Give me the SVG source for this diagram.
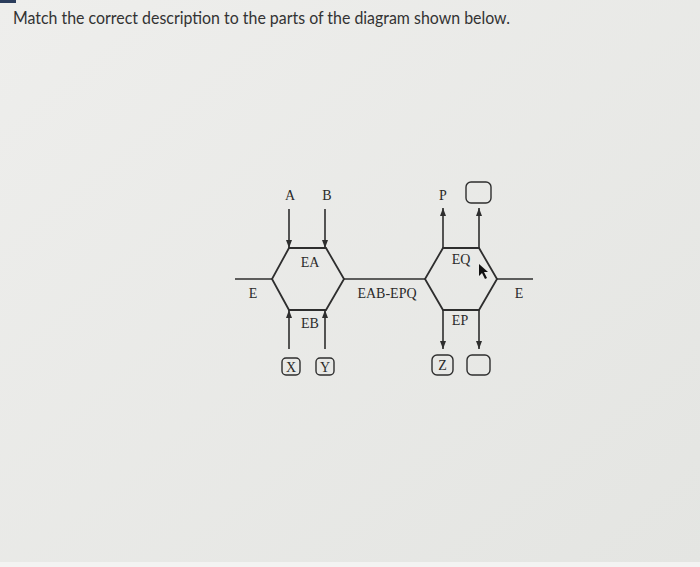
<svg xmlns="http://www.w3.org/2000/svg" width="700" height="567" viewBox="0 0 700 567">
<style>
.ln{stroke:#2e2e2e;stroke-width:1.6;fill:none}
.hex{stroke:#2e2e2e;stroke-width:1.8;fill:none;stroke-linejoin:miter}
.lb{font-family:"Liberation Serif","Times New Roman",serif;font-size:14px;fill:#2a2a2a;text-anchor:middle}
.bx{stroke:#2e2e2e;stroke-width:1.4;fill:none}
</style>
<defs>
<marker id="ah" viewBox="0 0 8 6" refX="8" refY="3" markerWidth="8" markerHeight="6" markerUnits="userSpaceOnUse" orient="auto"><path d="M0,0L8,3L0,6z" fill="#2e2e2e"/></marker>
<linearGradient id="bg" x1="0" y1="0" x2="1" y2="1"><stop offset="0" stop-color="#eeeeec"/><stop offset="1" stop-color="#e4e5e2"/></linearGradient>
</defs>
<rect width="700" height="567" fill="url(#bg)"/>
<rect x="0" y="562" width="700" height="5" fill="#f3f3f2"/>
<rect x="0" y="0" width="16" height="3" fill="#2b3d5c"/>
<text x="13" y="24" font-family="Lato,'Open Sans',sans-serif" font-size="17.5" fill="#333" textLength="497" lengthAdjust="spacingAndGlyphs">Match the correct description to the parts of the diagram shown below.</text>

<g id="connectors">
<line class="ln" x1="289" y1="209" x2="289" y2="248" marker-end="url(#ah)"/>
<line class="ln" x1="325" y1="209" x2="325" y2="248" marker-end="url(#ah)"/>
<line class="ln" x1="289" y1="349" x2="289" y2="310" marker-end="url(#ah)"/>
<line class="ln" x1="325" y1="349" x2="325" y2="310" marker-end="url(#ah)"/>
<line class="ln" x1="235" y1="279" x2="272" y2="279"/>
<line class="ln" x1="344" y1="279" x2="425" y2="279"/>
<line class="ln" x1="497" y1="279" x2="533" y2="279"/>
<line class="ln" x1="443" y1="248" x2="443" y2="208" marker-end="url(#ah)"/>
<line class="ln" x1="479" y1="248" x2="479" y2="208" marker-end="url(#ah)"/>
<line class="ln" x1="443" y1="310" x2="443" y2="349" marker-end="url(#ah)"/>
<line class="ln" x1="479" y1="310" x2="479" y2="349" marker-end="url(#ah)"/>
</g>

<g id="hexEA">
<polygon class="hex" points="289,248 326,248 344,279 326,310 289,310 272,279"/>
<text class="lb" x="310" y="267">EA</text>
<text class="lb" x="310" y="328">EB</text>
</g>
<g id="hexEPQ">
<polygon class="hex" points="443,248 479,248 497,279 479,310 443,310 425,279"/>
<text class="lb" x="461" y="264">EQ</text>
<text class="lb" x="460" y="325">EP</text>
</g>
<g id="labels">
<text class="lb" x="290" y="200">A</text>
<text class="lb" x="327" y="200">B</text>
<text class="lb" x="443" y="200">P</text>
<text class="lb" x="253" y="298">E</text>
<text class="lb" x="519" y="298">E</text>
<text class="lb" x="387" y="298">EAB-EPQ</text>
</g>
<g id="boxX"><rect class="bx" x="282" y="358" width="18" height="17" rx="4"/><text class="lb" x="291" y="371.5">X</text></g>
<g id="boxY"><rect class="bx" x="316" y="358" width="18" height="17" rx="4"/><text class="lb" x="325" y="371.5">Y</text></g>
<g id="boxZ"><rect class="bx" x="432" y="355" width="21" height="20" rx="5"/><text class="lb" x="442.5" y="370">Z</text></g>
<g id="boxBR"><rect class="bx" x="467" y="355" width="23" height="20" rx="5"/></g>
<g id="boxTR"><rect class="bx" x="466" y="182" width="25" height="21" rx="5"/></g>
<g id="cursor"><path d="M479,264 L479,276 L482,273 L485,279 L487,278 L484,272 L488,272 Z" fill="#111"/></g>
</svg>
